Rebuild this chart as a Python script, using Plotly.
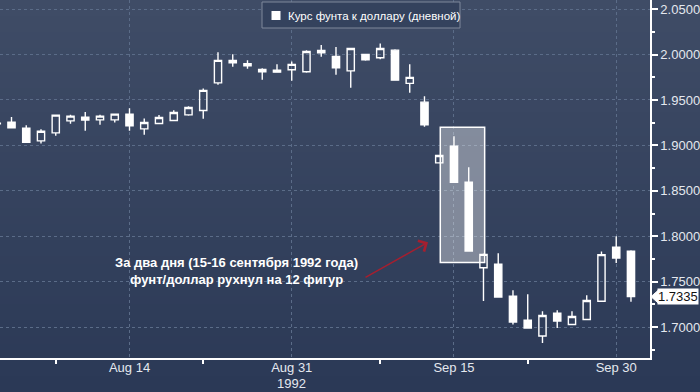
import plotly.graph_objects as go

# ---------------- data ----------------
dates = ["Aug 3", "Aug 4", "Aug 5", "Aug 6", "Aug 7",
         "Aug 10", "Aug 11", "Aug 12", "Aug 13", "Aug 14",
         "Aug 17", "Aug 18", "Aug 19", "Aug 20", "Aug 21",
         "Aug 24", "Aug 25", "Aug 26", "Aug 27", "Aug 28",
         "Aug 31", "Sep 1", "Sep 2", "Sep 3", "Sep 4",
         "Sep 7", "Sep 8", "Sep 9", "Sep 10", "Sep 11",
         "Sep 14", "Sep 15", "Sep 16", "Sep 17", "Sep 18",
         "Sep 21", "Sep 22", "Sep 23", "Sep 24", "Sep 25",
         "Sep 28", "Sep 29", "Sep 30", "Oct 1"]
open_ = [1.9245, 1.9256, 1.9189, 1.9050, 1.9138,
         1.9270, 1.9311, 1.9281, 1.9281, 1.9344,
         1.9182, 1.9241, 1.9274, 1.9336, 1.9384,
         1.9688, 1.9935, 1.9898, 1.9836, 1.9828,
         1.9832, 1.9810, 2.0019, 1.9979, 1.9820,
         2.0001, 1.9964, 2.0048, 1.9682, 1.9476,
         1.8807, 1.8991, 1.8595, 1.7653, 1.7692,
         1.7339, 1.7075, 1.6902, 1.7152, 1.7028,
         1.7083, 1.7284, 1.7879, 1.7835]
high = [1.9262, 1.9311, 1.9222, 1.9178, 1.9336,
        1.9336, 1.9366, 1.9336, 1.9350, 1.9410,
        1.9296, 1.9333, 1.9388, 1.9432, 1.9627,
        2.0026, 2.0004, 1.9938, 1.9850, 1.9894,
        1.9924, 2.0048, 2.0104, 2.0082, 2.0070,
        2.0003, 2.0122, 2.0059, 1.9894, 1.9542,
        1.8892, 1.9101, 1.8760, 1.7810, 1.7813,
        1.7405, 1.7361, 1.7174, 1.7185, 1.7174,
        1.7350, 1.7832, 1.8000, 1.7846]
low = [1.9225, 1.9190, 1.9028, 1.9021, 1.9105,
       1.9237, 1.9160, 1.9226, 1.9252, 1.9160,
       1.9116, 1.9238, 1.9270, 1.9325, 1.9292,
       1.9666, 1.9865, 1.9843, 1.9721, 1.9798,
       1.9710, 1.9800, 1.9975, 1.9776, 1.9633,
       1.9931, 1.9949, 1.9718, 1.9578, 1.9204,
       1.8805, 1.8595, 1.7838, 1.7288, 1.7332,
       1.7028, 1.6990, 1.6825, 1.6990, 1.7028,
       1.7083, 1.7276, 1.7706, 1.7278]
close = [1.9238, 1.9193, 1.9035, 1.9156, 1.9333,
         1.9322, 1.9278, 1.9322, 1.9344, 1.9215,
         1.9252, 1.9307, 1.9362, 1.9417, 1.9605,
         1.9935, 1.9909, 1.9876, 1.9810, 1.9806,
         1.9891, 2.0034, 2.0045, 1.9854, 2.0067,
         1.9942, 2.0067, 1.9718, 1.9748, 1.9226,
         1.8889, 1.8595, 1.7838, 1.7800, 1.7332,
         1.7056, 1.6990, 1.7127, 1.7067, 1.7116,
         1.7292, 1.7798, 1.7761, 1.7335]

tick_dates = ["Aug 14", "Aug 31", "Sep 15", "Sep 30"]
minor_tick_dates = ["Aug 7", "Aug 21", "Sep 8", "Sep 22"]
y_ticks = [1.70, 1.75, 1.80, 1.85, 1.90, 1.95, 2.00, 2.05]
year_label = "1992"
last_price = 1.7335
legend_text = "Курс фунта к доллару (дневной)"
note_text = "За два дня (15-16 сентября 1992 года)<br>фунт/доллар рухнул на 12 фигур"
crash_dates = ["Sep 15", "Sep 16"]
crash_box_y = [1.771, 1.920]

# ---------------- figure ----------------
W, H = 700, 392
ML, MR, MT, MB = 0, 50, 0, 34
PW, PH = W - ML - MR, H - MT - MB


def px(xp):
    return (xp - ML) / PW


def py(yp):
    return (H - MB - yp) / PH


x = list(range(len(dates)))
idx = {d: i for i, d in enumerate(dates)}

FONT = "Liberation Sans, Arial, sans-serif"
TXT = "#e4e8ef"
GRID = "#5b6c88"

fig = go.Figure()
fig.add_trace(go.Candlestick(
    x=x, open=open_, high=high, low=low, close=close,
    increasing=dict(line=dict(color="white", width=1.4), fillcolor="rgba(0,0,0,0)"),
    decreasing=dict(line=dict(color="white", width=1.4), fillcolor="white"),
    whiskerwidth=0, showlegend=False, hoverinfo="skip",
))

shapes = []
# background gradient
N = 49
top = (63, 76, 102)
bot = (43, 57, 86)
for k in range(N):
    t = k / (N - 1)
    c = tuple(round(top[j] + (bot[j] - top[j]) * t) for j in range(3))
    y0p = k * H / N
    y1p = (k + 1) * H / N + 0.5
    shapes.append(dict(type="rect", xref="paper", yref="paper",
                       x0=-0.05, x1=1.2, y0=py(y1p), y1=py(y0p),
                       fillcolor="rgb(%d,%d,%d)" % c, line=dict(width=0), layer="below"))

# highlight box of the crash
shapes.append(dict(type="rect", xref="x", yref="y",
                   x0=idx[crash_dates[0]] - 0.93, x1=idx[crash_dates[1]] + 1.08,
                   y0=crash_box_y[0], y1=crash_box_y[1],
                   fillcolor="rgba(255,255,255,0.38)", line=dict(color="white", width=1.5),
                   layer="between"))

# legend box
shapes.append(dict(type="rect", xref="paper", yref="paper",
                   x0=px(262), x1=px(460), y0=py(28), y1=py(2),
                   fillcolor="#34425d", line=dict(color="#7f889b", width=1), layer="above"))
shapes.append(dict(type="rect", xref="paper", yref="paper",
                   x0=px(271.5), x1=px(280.5), y0=py(20), y1=py(11),
                   fillcolor="white", line=dict(width=0), layer="above"))

# price tag pointer
shapes.append(dict(type="path", xref="paper", yref="y",
                   path="M %f,%f L %f,%f L %f,%f Z" % (px(651), last_price,
                                                     px(658), last_price + 0.0068,
                                                     px(658), last_price - 0.0068),
                   fillcolor="white", line=dict(color="white", width=1), layer="above"))

annotations = [
    dict(xref="paper", yref="paper", x=px(286), y=py(15.5), text=legend_text,
         showarrow=False, xanchor="left", yanchor="middle",
         font=dict(family=FONT, size=11.5, color="white")),
    dict(xref="paper", yref="paper", x=px(236), y=py(271), text=note_text,
         showarrow=False, xanchor="center", yanchor="middle", align="center",
         font=dict(family=FONT, size=13, color="white", weight="bold")),
    dict(xref="x", yref="y", x=idx["Sep 14"] - 0.76, y=1.7934, ax=-64, ay=36,
         axref="pixel", ayref="pixel", text="", showarrow=True,
         arrowcolor="#a51f2f", arrowwidth=1.5, arrowhead=4, arrowsize=1.6),
    dict(xref="x", yref="paper", x=idx["Aug 31"], y=py(383.5), text=year_label,
         showarrow=False, xanchor="center", yanchor="middle",
         font=dict(family=FONT, size=13, color=TXT)),
    dict(xref="paper", yref="y", x=px(657), y=last_price, text="%.4f" % last_price,
         showarrow=False, xanchor="left", yanchor="middle",
         bgcolor="white", borderpad=0, font=dict(family=FONT, size=13, color="#111111")),
]

fig.update_layout(
    width=W, height=H,
    margin=dict(l=ML, r=MR, t=MT, b=MB, pad=0),
    paper_bgcolor="#36445f", plot_bgcolor="rgba(0,0,0,0)",
    showlegend=False,
    shapes=shapes, annotations=annotations,
    xaxis=dict(
        range=[0.22, 44.29],
        tickmode="array", tickvals=[idx[d] for d in tick_dates], ticktext=tick_dates,
        ticks="outside", ticklen=3, tickcolor="rgba(0,0,0,0)",
        ticklabelstandoff=-6,
        showgrid=True, gridcolor=GRID, griddash="3px,3px", gridwidth=1,
        showline=True, linecolor="white", linewidth=1.5, zeroline=False,
        tickfont=dict(family=FONT, size=13, color=TXT),
        rangeslider=dict(visible=False),
        minor=dict(tickmode="array", tickvals=[idx[d] for d in minor_tick_dates],
                   ticks="outside", ticklen=4, tickcolor="white", tickwidth=1.5,
                   showgrid=False),
    ),
    yaxis=dict(
        side="right", range=[1.666, 2.060],
        tickmode="array", tickvals=y_ticks, tickformat=".4f",
        ticks="outside", ticklen=6, tickwidth=1.5, tickcolor="white",
        showgrid=True, gridcolor=GRID, griddash="3px,3px", gridwidth=1,
        showline=True, linecolor="white", linewidth=1.5, zeroline=False,
        tickfont=dict(family=FONT, size=13, color=TXT),
        minor=dict(tickmode="linear", tick0=1.675, dtick=0.05,
                   ticks="outside", ticklen=3, tickcolor="white", tickwidth=1.5,
                   showgrid=False),
    ),
)

fig.write_html(
    "out.html",
    config=dict(displayModeBar=False),
    post_script="document.body.style.margin='0';document.body.style.overflow='hidden';",
)
